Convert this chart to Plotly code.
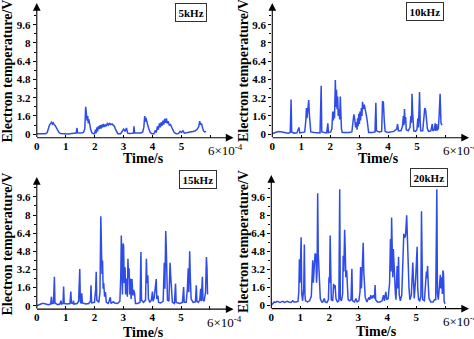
import plotly.graph_objects as go

# ---------------- data (time in units of 1e-4 s, electron temperature in V) ----------------
t_5k = [0.00,0.10,0.20,0.30,0.36,0.40,0.44,0.48,0.51,0.54,0.57,0.60,0.64,0.68,0.72,0.77,0.82,0.90,1.00,1.10,
        1.20,1.30,1.36,1.39,1.41,1.50,1.58,1.62,1.66,1.69,1.71,1.72,1.74,1.76,1.78,1.80,1.83,1.86,1.90,1.95,
        2.00,2.03,2.05,2.08,2.10,2.13,2.16,2.19,2.22,2.25,2.28,2.31,2.34,2.38,2.41,2.44,2.48,2.52,2.56,2.60,
        2.64,2.68,2.72,2.76,2.80,2.90,2.95,3.00,3.05,3.10,3.14,3.20,3.30,3.34,3.36,3.38,3.50,3.60,3.66,3.70,
        3.73,3.75,3.77,3.80,3.83,3.87,3.92,3.98,4.05,4.10,4.13,4.17,4.20,4.24,4.27,4.30,4.33,4.36,4.39,4.42,
        4.45,4.48,4.51,4.54,4.58,4.62,4.66,4.70,4.75,4.82,4.90,4.95,5.00,5.05,5.10,5.20,5.30,5.40,5.48,5.55,
        5.60,5.63,5.66,5.69,5.72,5.76,5.80,5.85]
v_5k = [0.05,0.04,0.06,0.05,0.15,0.55,0.80,0.95,1.05,0.90,1.00,0.85,0.75,0.55,0.35,0.15,0.06,0.04,0.05,0.03,
        0.06,0.08,0.10,0.55,0.12,0.10,0.12,0.20,0.50,2.40,1.40,1.95,1.20,1.60,0.95,1.30,0.70,0.45,0.15,0.05,
        0.05,0.40,0.10,0.60,0.25,0.70,0.45,0.80,0.50,0.85,0.60,0.90,0.65,0.85,0.70,1.00,0.80,0.95,0.85,0.90,
        0.80,0.70,0.45,0.15,0.05,0.05,0.30,0.45,0.25,0.55,0.10,0.06,0.08,0.10,0.70,0.12,0.10,0.12,0.20,0.60,
        1.60,1.10,1.45,0.95,0.85,0.50,0.15,0.05,0.05,0.35,0.15,0.70,0.40,0.95,0.60,1.05,0.75,1.20,0.85,1.35,
        1.00,1.40,0.95,1.15,0.80,0.85,0.55,0.40,0.15,0.05,0.06,0.25,0.15,0.30,0.10,0.12,0.20,0.25,0.30,0.45,
        0.70,1.15,0.85,0.95,0.55,0.30,0.20,0.25]

t_10k = [0.00,0.08,0.15,0.25,0.35,0.45,0.55,0.62,0.65,0.67,0.75,0.85,0.92,0.95,1.05,1.12,1.16,1.18,1.20,1.22,
         1.24,1.26,1.28,1.30,1.33,1.45,1.55,1.65,1.69,1.71,1.80,1.88,1.92,1.94,2.02,2.06,2.09,2.11,2.13,2.15,
         2.18,2.20,2.22,2.24,2.26,2.28,2.31,2.33,2.35,2.37,2.39,2.42,2.55,2.65,2.75,2.79,2.82,2.85,2.88,2.91,
         2.93,2.95,2.97,2.99,3.01,3.03,3.05,3.08,3.10,3.12,3.15,3.18,3.21,3.24,3.27,3.30,3.33,3.45,3.55,3.58,
         3.60,3.70,3.78,3.81,3.84,3.87,3.90,4.00,4.10,4.20,4.30,4.33,4.36,4.45,4.50,4.53,4.55,4.57,4.59,4.61,
         4.63,4.70,4.76,4.79,4.81,4.83,4.85,4.87,4.89,4.95,5.00,5.03,5.05,5.07,5.09,5.11,5.13,5.20,5.24,5.27,
         5.30,5.33,5.36,5.40,5.48,5.53,5.55,5.60,5.63,5.65,5.68,5.70,5.74,5.77,5.80,5.83,5.86]
v_10k = [0.05,0.15,0.20,0.25,0.20,0.12,0.10,0.15,3.05,0.20,0.10,0.12,0.60,0.12,0.15,0.20,1.20,2.30,1.40,2.00,
         2.60,3.00,1.80,0.80,0.20,0.15,0.15,0.12,4.25,0.20,0.15,0.12,0.95,0.15,0.20,0.50,2.00,1.20,2.00,1.40,
         4.75,2.40,3.90,2.20,3.30,1.60,2.20,1.30,3.30,1.60,0.50,0.15,0.12,0.15,0.20,1.20,1.75,1.30,0.60,1.05,
         0.40,1.40,0.70,1.80,0.90,2.00,1.20,2.30,1.60,2.85,2.20,2.60,2.00,1.80,1.40,0.50,0.15,0.15,0.20,2.75,
         0.30,0.20,0.25,2.90,2.80,1.20,0.25,0.15,0.20,0.25,0.45,0.90,0.30,0.30,0.70,1.60,0.80,2.20,1.00,1.50,
         0.40,0.30,0.60,1.60,1.00,3.55,2.00,1.40,0.30,0.25,0.40,1.40,0.60,2.00,3.70,1.20,0.30,0.30,1.50,2.30,
         2.10,1.40,0.50,0.25,0.30,0.90,0.30,0.40,0.95,0.30,0.90,0.35,0.50,1.80,3.55,1.00,0.80]

t_15k = [0.00,0.05,0.10,0.18,0.25,0.32,0.40,0.48,0.51,0.53,0.58,0.61,0.63,0.72,0.80,0.84,0.86,0.91,0.93,0.95,
         1.05,1.15,1.18,1.20,1.25,1.27,1.29,1.40,1.45,1.49,1.51,1.54,1.56,1.58,1.70,1.80,1.86,1.88,1.90,2.00,
         2.04,2.06,2.08,2.15,2.19,2.22,2.24,2.26,2.28,2.30,2.32,2.35,2.38,2.41,2.48,2.55,2.57,2.65,2.70,2.80,
         2.88,2.91,2.93,2.95,2.97,2.99,3.01,3.03,3.06,3.08,3.11,3.14,3.16,3.18,3.20,3.22,3.25,3.27,3.30,3.33,
         3.36,3.39,3.42,3.50,3.58,3.61,3.63,3.70,3.77,3.80,3.82,3.85,3.87,3.92,3.97,4.01,4.03,4.07,4.10,4.14,
         4.16,4.20,4.22,4.30,4.38,4.42,4.44,4.47,4.49,4.51,4.53,4.58,4.62,4.64,4.67,4.70,4.77,4.81,4.83,4.95,
         5.05,5.09,5.11,5.18,5.22,5.25,5.27,5.30,5.32,5.35,5.42,5.50,5.53,5.55,5.60,5.65,5.68,5.70,5.74,5.76,
         5.80,5.85,5.88,5.90,5.92]
v_15k = [0.00,0.05,0.15,0.20,0.20,0.15,0.10,0.15,0.80,0.20,0.20,2.55,0.25,0.10,0.15,0.45,0.15,0.20,1.70,0.20,
         0.15,0.20,1.25,0.25,0.20,0.45,0.15,0.20,0.40,3.25,0.40,0.20,1.10,0.25,0.15,0.20,0.40,1.80,0.25,0.30,
         1.40,3.00,0.50,0.30,1.20,7.90,4.80,2.80,4.00,1.50,2.00,0.80,1.20,0.30,0.20,0.75,0.20,0.35,0.25,0.20,
         0.40,2.50,6.20,3.00,1.00,5.50,5.30,2.00,3.40,1.00,2.40,0.80,4.15,2.50,3.30,1.00,2.40,0.60,2.35,0.90,
         1.40,1.10,0.20,0.20,0.30,4.75,0.50,0.30,0.50,4.15,2.00,2.70,0.60,0.30,0.50,1.25,0.40,0.70,1.50,2.35,
         0.60,0.90,0.30,0.25,0.40,3.80,1.50,6.60,5.00,2.10,0.50,0.40,3.80,2.70,1.00,0.30,0.20,1.95,0.30,0.20,
         0.30,1.65,0.30,0.30,1.50,3.30,1.20,4.80,2.70,0.60,0.30,0.35,1.80,0.40,0.30,0.50,1.50,0.40,2.55,0.50,
         0.40,1.20,4.30,3.30,1.00]

t_20k = [0.00,0.05,0.10,0.15,0.20,0.25,0.30,0.35,0.40,0.45,0.50,0.55,0.60,0.68,0.74,0.78,0.85,0.92,0.95,0.97,
         0.99,1.01,1.03,1.05,1.08,1.12,1.14,1.16,1.18,1.25,1.32,1.38,1.41,1.43,1.45,1.48,1.51,1.54,1.56,1.58,
         1.60,1.62,1.64,1.66,1.69,1.74,1.78,1.83,1.86,1.92,1.97,1.99,2.01,2.03,2.05,2.07,2.12,2.15,2.17,2.20,
         2.23,2.28,2.33,2.36,2.38,2.42,2.46,2.48,2.50,2.53,2.55,2.57,2.60,2.62,2.65,2.70,2.75,2.78,2.80,2.87,
         2.92,2.96,3.02,3.06,3.08,3.11,3.14,3.17,3.19,3.21,3.24,3.30,3.36,3.40,3.43,3.47,3.52,3.56,3.58,3.60,
         3.66,3.75,3.82,3.87,3.90,3.95,3.98,4.03,4.08,4.11,4.13,4.15,4.17,4.19,4.21,4.23,4.25,4.28,4.30,4.34,
         4.36,4.39,4.41,4.45,4.50,4.54,4.57,4.60,4.63,4.67,4.69,4.71,4.73,4.75,4.78,4.83,4.88,4.90,4.93,4.98,
         5.03,5.05,5.08,5.12,5.16,5.18,5.20,5.22,5.28,5.32,5.35,5.37,5.39,5.41,5.44,5.50,5.58,5.63,5.67,5.71,
         5.73,5.76,5.80,5.83,5.85,5.88,5.90,5.92,5.94,5.96,5.98,6.00]
v_20k = [0.00,0.15,0.30,0.25,0.35,0.30,0.25,0.30,0.35,0.25,0.30,0.35,0.30,0.25,0.40,0.30,0.30,0.35,1.20,4.10,
         2.00,3.50,6.05,1.00,0.40,1.50,5.40,1.00,0.40,0.30,0.40,0.80,3.60,4.00,2.00,3.50,4.60,4.50,2.00,3.00,
         9.95,4.60,3.00,2.40,0.60,0.30,0.30,0.60,0.30,0.25,0.50,2.50,2.00,6.20,2.10,0.50,0.40,1.90,1.50,1.80,
         0.60,0.30,0.40,10.30,0.60,0.40,1.00,4.40,3.00,6.70,5.00,2.50,3.10,1.00,0.50,0.40,0.50,3.25,0.40,0.30,
         0.60,0.30,0.40,1.20,3.40,1.50,3.00,5.55,3.00,1.80,0.70,0.30,0.70,0.50,0.90,0.60,0.90,0.60,1.80,0.50,
         0.30,0.30,0.40,0.90,0.40,1.20,0.50,0.60,2.00,5.90,3.00,7.80,4.50,2.50,5.00,3.25,1.80,1.00,0.50,3.50,
         1.50,4.30,1.00,0.40,0.90,3.50,6.35,6.00,6.20,8.00,5.80,4.00,3.25,1.50,0.50,0.90,3.80,1.50,0.60,2.40,
         5.20,1.50,0.50,0.40,0.80,8.35,3.00,0.50,0.40,1.50,3.00,2.40,3.50,2.00,0.60,0.30,0.30,0.50,0.50,10.30,
         1.00,0.50,1.50,2.70,1.50,2.50,1.00,3.10,2.80,0.40,0.20,0.25]

labels = ["5kHz", "10kHz", "15kHz", "20kHz"]
series = [(t_5k, v_5k), (t_10k, v_10k), (t_15k, v_15k), (t_20k, v_20k)]

y_tick_vals = [0, 1.6, 3.2, 4.8, 6.4, 8, 9.6]
y_tick_text = ["0", "1.6", "3.2", "4.8", "6.4", "8", "9.6"]
y_minor_vals = [0.8, 2.4, 4.0, 5.6, 7.2, 8.8, 10.4]
x_tick_vals = [0, 1, 2, 3, 4, 5, 6]
x_tick_text = ["0", "1", "2", "3", "4", "5", ""]

# ---------------- layout helpers ----------------
W, H = 474, 339
LINE = "#2f4ce8"
SERIF = "Liberation Serif"

panels = [
    dict(xl=34, xr=232, yt=3, yb=138.5, xr_=[0, 6.8], yr_=[-0.3, 11.5], box=(189, 13), ytit=(5, 71), xtit=(141, 159)),
    dict(xl=271, xr=469, yt=3, yb=138.5, xr_=[0, 6.8], yr_=[-0.3, 11.5], box=(425, 12), ytit=(242, 71), xtit=(378, 159)),
    dict(xl=34, xr=232, yt=178, yb=311, xr_=[0, 6.82], yr_=[-0.3, 11.36], box=(196, 181), ytit=(5, 245), xtit=(141, 334)),
    dict(xl=270, xr=469, yt=176, yb=310.5, xr_=[0, 6.82], yr_=[-0.3, 11.58], box=(428.5, 179), ytit=(242, 243), xtit=(376, 333)),
]

def px(x):
    return x / W

def py(y):
    return 1 - y / H

fig = go.Figure()
layout = dict(
    width=W, height=H, autosize=False,
    margin=dict(l=0, r=0, t=0, b=0),
    paper_bgcolor="white", plot_bgcolor="white",
    showlegend=False,
)
annotations = []
tickfont = dict(family=SERIF, size=11, color="black", weight="bold")

for i, (p, (t, v), lab) in enumerate(zip(panels, series, labels)):
    n = "" if i == 0 else str(i + 1)
    fig.add_trace(go.Scatter(x=t, y=v, mode="lines", line=dict(color=LINE, width=1.5),
                             xaxis="x" + n, yaxis="y" + n, hoverinfo="skip"))
    layout["xaxis" + n] = dict(
        domain=[px(p["xl"]), px(p["xr"])], range=p["xr_"], anchor="y" + n,
        showgrid=False, zeroline=False, showline=False,
        tickvals=x_tick_vals, ticktext=x_tick_text, ticks="inside", ticklen=3,
        tickcolor="black", tickwidth=1, tickfont=tickfont,
    )
    layout["yaxis" + n] = dict(
        domain=[py(p["yb"]), py(p["yt"])], range=p["yr_"], anchor="x" + n,
        showgrid=False, zeroline=False, showline=False,
        tickvals=y_tick_vals, ticktext=y_tick_text, ticks="outside", ticklen=3,
        tickcolor="black", tickwidth=1, tickfont=tickfont,
        minor=dict(tickvals=y_minor_vals, ticks="outside", ticklen=2, tickcolor="black"),
    )
    # axis arrows
    annotations.append(dict(xref="paper", yref="paper", x=px(p["xr"]), y=py(p["yb"]),
                            ax=-(p["xr"] - p["xl"]), ay=0, axref="pixel", ayref="pixel",
                            text="", showarrow=True, arrowhead=2, arrowsize=1.4, arrowwidth=1.1,
                            arrowcolor="black", standoff=0, startstandoff=0))
    annotations.append(dict(xref="paper", yref="paper", x=px(p["xl"]), y=py(p["yt"]),
                            ax=0, ay=(p["yb"] - p["yt"]), axref="pixel", ayref="pixel",
                            text="", showarrow=True, arrowhead=2, arrowsize=1.4, arrowwidth=1.1,
                            arrowcolor="black", standoff=0, startstandoff=0))
    # x multiplier label
    x6 = p["xl"] + (p["xr"] - p["xl"]) * (6 - p["xr_"][0]) / (p["xr_"][1] - p["xr_"][0])
    annotations.append(dict(xref="paper", yref="paper", x=px(x6 - 4.5), y=py(p["yb"] + 12.5),
                            xanchor="left", yanchor="middle", showarrow=False,
                            text="6×10<sup>-4</sup>", font=dict(family=SERIF, size=13, color="black")))
    # label box
    annotations.append(dict(xref="paper", yref="paper", x=px(p["box"][0]), y=py(p["box"][1]),
                            xanchor="center", yanchor="middle", showarrow=False, text=lab,
                            font=dict(family=SERIF, size=11, color="black", weight="bold"),
                            bordercolor="#333333", borderwidth=1, borderpad=2.5, bgcolor="white"))
    # axis titles
    annotations.append(dict(xref="paper", yref="paper", x=px(p["ytit"][0]), y=py(p["ytit"][1]),
                            xanchor="center", yanchor="middle", showarrow=False, textangle=-90,
                            text="Electron temperature/V",
                            font=dict(family=SERIF, size=14, color="black", weight="bold")))
    annotations.append(dict(xref="paper", yref="paper", x=px(p["xtit"][0]), y=py(p["xtit"][1]),
                            xanchor="center", yanchor="middle", showarrow=False, text="Time/s",
                            font=dict(family=SERIF, size=14, color="black", weight="bold")))

layout["annotations"] = annotations
fig.update_layout(**layout)
fig.write_html("out.html")
